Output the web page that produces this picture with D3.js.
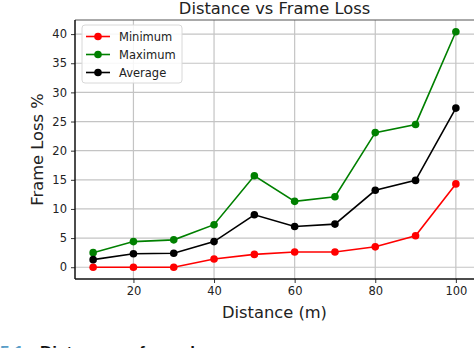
<!DOCTYPE html>
<html>
<head>
<meta charset="utf-8">
<script src="https://cdn.jsdelivr.net/npm/d3@7"></script>
<style>
  html, body { margin: 0; padding: 0; background: #fff; overflow: hidden; }
  svg { display: block; font-family: "DejaVu Sans", sans-serif; }
</style>
</head>
<body>
<svg id="chart" width="474" height="348"></svg>
<script>
// Frame loss (%) measured at each distance
const distances = [10, 20, 30, 40, 50, 60, 70, 80, 90, 100];
const minimum = [0, 0, 0, 1.4, 2.2, 2.6, 2.6, 3.5, 5.4, 14.3];
const maximum = [2.5, 4.4, 4.7, 7.3, 15.7, 11.3, 12.1, 23.1, 24.5, 40.4];
const average = [1.3, 2.3, 2.4, 4.4, 9.0, 7.0, 7.4, 13.2, 14.9, 27.3];

const seriesNames = ["Minimum", "Maximum", "Average"];
const seriesColors = ["#ff0000", "#008000", "#000000"];
const seriesValues = [minimum, maximum, average];

const xTicks = [20, 40, 60, 80, 100];
const yTicks = [0, 5, 10, 15, 20, 25, 30, 35, 40];

const svg = d3.select("#chart");
const plot = { left: 75, right: 474, top: 20, bottom: 279 };

// Matplotlib-style 5% padding around the data range
const allVals = seriesValues.flat();
const xMin = d3.min(distances), xMax = d3.max(distances);
const yMin = d3.min(allVals), yMax = d3.max(allVals);
const xPad = (xMax - xMin) * 0.05, yPad = (yMax - yMin) * 0.05;

const x = d3.scaleLinear().domain([xMin - xPad, xMax + xPad]).range([plot.left, plot.right]);
const y = d3.scaleLinear().domain([yMin - yPad, yMax + yPad]).range([plot.bottom, plot.top]);

// Grid
const grid = svg.append("g");
grid.selectAll(".vg").data(xTicks).enter().append("line")
  .attr("x1", d => x(d)).attr("x2", d => x(d))
  .attr("y1", plot.top).attr("y2", plot.bottom)
  .attr("stroke", "#c4c4c4").attr("stroke-width", 1.2);
grid.selectAll(".hg").data(yTicks).enter().append("line")
  .attr("x1", plot.left).attr("x2", plot.right)
  .attr("y1", d => y(d)).attr("y2", d => y(d))
  .attr("stroke", "#c4c4c4").attr("stroke-width", 1.2);

// Axes
const xAxis = svg.append("g")
  .attr("transform", `translate(0,${plot.bottom})`)
  .call(d3.axisBottom(x).tickValues(xTicks).tickSize(4).tickPadding(4));
const yAxis = svg.append("g")
  .attr("transform", `translate(${plot.left},0)`)
  .call(d3.axisLeft(y).tickValues(yTicks).tickSize(4).tickPadding(4));
[xAxis, yAxis].forEach(a => {
  a.select(".domain").remove();
  a.selectAll("text").attr("font-family", "DejaVu Sans").attr("font-size", 11.5).attr("fill", "#222");
  a.selectAll(".tick line").attr("stroke", "#333");
});

// Spines
svg.append("line").attr("x1", plot.left).attr("x2", plot.right).attr("y1", plot.top).attr("y2", plot.top)
  .attr("stroke", "#555").attr("stroke-width", 1);
svg.append("line").attr("x1", plot.left).attr("x2", plot.right).attr("y1", plot.bottom).attr("y2", plot.bottom)
  .attr("stroke", "#111").attr("stroke-width", 1.5);
svg.append("line").attr("x1", plot.left).attr("x2", plot.left).attr("y1", plot.top).attr("y2", plot.bottom)
  .attr("stroke", "#111").attr("stroke-width", 1.5);

// Series
const line = d3.line().x((d, i) => x(distances[i])).y(d => y(d));
seriesValues.forEach((vals, s) => {
  const g = svg.append("g");
  g.append("path").datum(vals).attr("d", line)
    .attr("fill", "none").attr("stroke", seriesColors[s]).attr("stroke-width", 1.6);
  g.selectAll("circle").data(vals).enter().append("circle")
    .attr("cx", (d, i) => x(distances[i])).attr("cy", d => y(d)).attr("r", 3.8)
    .attr("fill", seriesColors[s]);
});

// Legend
const legend = svg.append("g");
legend.append("rect").attr("x", 82).attr("y", 25).attr("width", 100).attr("height", 58)
  .attr("rx", 3).attr("fill", "#fff").attr("fill-opacity", 0.85)
  .attr("stroke", "#d8d8d8").attr("stroke-width", 1);
seriesNames.forEach((name, i) => {
  const cy = 36.5 + i * 18;
  legend.append("line").attr("x1", 86).attr("x2", 110).attr("y1", cy).attr("y2", cy)
    .attr("stroke", seriesColors[i]).attr("stroke-width", 1.6);
  legend.append("circle").attr("cx", 98).attr("cy", cy).attr("r", 3.8).attr("fill", seriesColors[i]);
  legend.append("text").attr("x", 119).attr("y", cy + 4.2)
    .attr("font-size", 11.5).attr("fill", "#222").text(name);
});

// Titles
svg.append("text").attr("x", (plot.left + plot.right) / 2).attr("y", 14)
  .attr("text-anchor", "middle").attr("font-size", 16.3).attr("fill", "#222")
  .text("Distance vs Frame Loss");
svg.append("text").attr("x", (plot.left + plot.right) / 2).attr("y", 318)
  .attr("text-anchor", "middle").attr("font-size", 16.3).attr("fill", "#222")
  .text("Distance (m)");
svg.append("text")
  .attr("transform", `translate(43,${(plot.top + plot.bottom) / 2}) rotate(-90)`)
  .attr("text-anchor", "middle").attr("font-size", 16.3).attr("fill", "#222")
  .text("Frame Loss %");

// Caption below the figure, running off the bottom edge
const cap = svg.append("text").attr("x", 0).attr("y", 358)
  .attr("font-family", "Liberation Sans, Arial, sans-serif").attr("font-size", 17).attr("font-weight", "bold");
cap.append("tspan").attr("fill", "#5a9ec8").text("5.1 ");
cap.append("tspan").attr("x", 40).attr("fill", "#111").text("Distance vs frame loss");
</script>
</body>
</html>
